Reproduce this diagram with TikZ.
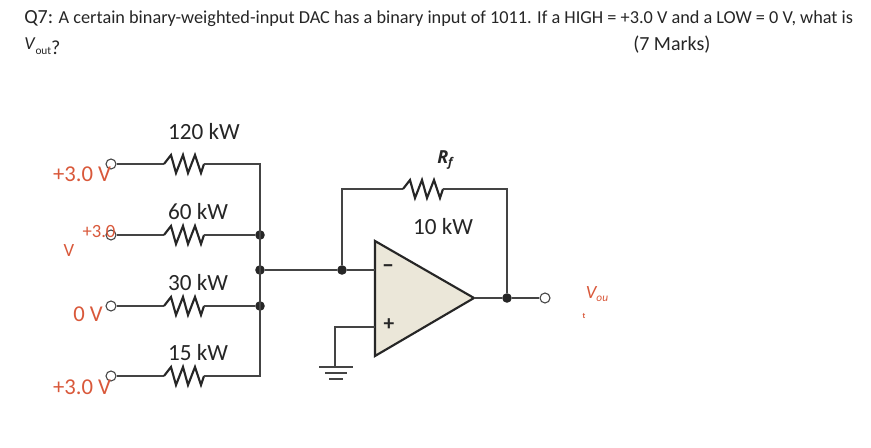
\documentclass[tikz,border=0pt]{standalone}
\usepackage{fontspec}
\setmainfont{Carlito}
\newfontfamily\labelfont{Open Sans}
\usetikzlibrary{positioning}
\definecolor{wirecolor}{HTML}{444444}
\definecolor{inputcolor}{HTML}{D9583A}
\definecolor{opampcolor}{HTML}{EBE7D9}
\begin{document}
\begin{tikzpicture}[x=0.75pt, y=-0.75pt]
	\tikzstyle{wire}=[draw=wirecolor, line width=1.2pt]
	\tikzstyle{resistor}=[wire, draw=black!85, line width=1.6pt, line join=miter, to path={-- ++(7,-9) -- ++(5,18) -- ++(7,-18) -- ++(5,18) -- ++(7,-18) -- ++(6,18) -- (\tikztotarget)}]
	\tikzstyle{terminalnode}=[draw=wirecolor, line width=0.8pt, circle, fill=white, inner sep=0pt, minimum size=7.5pt]
	\tikzstyle{dotnode}=[draw=none, circle, fill=black!85, inner sep=0pt, minimum size=7.2pt]
	\tikzstyle{valuenode}=[text=black!85, inner sep=0pt, font=\fontsize{17.4}{20}\selectfont]
	\tikzstyle{inputnode}=[text=inputcolor, inner sep=0pt, font=\fontsize{17}{20}\selectfont]
	\tikzstyle{titlenode}=[text=black!85, inner sep=0pt, anchor=base west, font=\fontsize{13.7}{16}\selectfont]

	\useasboundingbox (0,0) rectangle (871,448);
	\fill[white] (0,0) rectangle (871,448);

	% input branches
	\node (t1) at (111,164) [terminalnode] {};
	\node (t2) at (111,235) [terminalnode] {};
	\node (t3) at (111,306) [terminalnode] {};
	\node (t4) at (111,376) [terminalnode] {};

	\coordinate (r1a) at (164,164);
	\coordinate (r1b) at (204,164);
	\coordinate (r2a) at (164,235);
	\coordinate (r2b) at (204,235);
	\coordinate (r3a) at (164,306);
	\coordinate (r3b) at (204,306);
	\coordinate (r4a) at (164,376);
	\coordinate (r4b) at (204,376);
	\coordinate (c1) at (260,164);
	\coordinate (c4) at (260,376);

	\node (d2) at (260,235) [dotnode] {};
	\node (d3) at (260,306) [dotnode] {};
	\node (dj) at (260,270) [dotnode] {};
	\node (df) at (342,270) [dotnode] {};
	\node (dout) at (507,298) [dotnode] {};
	\node (tout) at (545,298) [terminalnode] {};

	% op-amp
	\coordinate (oa) at (375,241);
	\coordinate (ob) at (375,356);
	\coordinate (oc) at (474,298);
	\coordinate (oneg) at (375,270);
	\coordinate (opos) at (375,327);
	\draw [draw=black!85, line width=1.6pt, fill=opampcolor] (oa) -- (ob) -- (oc) -- cycle;
	\node (minus) at (388,269) [valuenode, font=\bfseries\fontsize{18}{20}\selectfont] {--};
	\node (plus) at (389,325) [valuenode, font=\bfseries\fontsize{16}{18}\selectfont] {+};

	% feedback
	\coordinate (fa) at (342,189);
	\coordinate (rfa) at (403,189);
	\coordinate (rfb) at (443,189);
	\coordinate (fb) at (507,189);

	% ground
	\coordinate (gw) at (335,327);
	\coordinate (g0) at (335,367);
	\coordinate (g1a) at (319,367);
	\coordinate (g1b) at (353,367);
	\coordinate (g2a) at (325,373);
	\coordinate (g2b) at (347,373);
	\coordinate (g3a) at (329,379);
	\coordinate (g3b) at (343,379);

	\draw [wire] (t1) -- (r1a);
	\draw [wire] (t2) -- (r2a);
	\draw [wire] (t3) -- (r3a);
	\draw [wire] (t4) -- (r4a);
	\draw [resistor] (r1a) to (r1b);
	\draw [resistor] (r2a) to (r2b);
	\draw [resistor] (r3a) to (r3b);
	\draw [resistor] (r4a) to (r4b);
	\draw [wire] (r1b) -- (c1) -- (c4) -- (r4b);
	\draw [wire] (r2b) -- (d2);
	\draw [wire] (r3b) -- (d3);
	\draw [wire] (dj) -- (df) -- (oneg);
	\draw [wire] (df) -- (fa) -- (rfa);
	\draw [resistor] (rfa) to (rfb);
	\draw [wire] (rfb) -- (fb) -- (dout);
	\draw [wire] (oc) -- (dout) -- (tout);
	\draw [wire] (opos) -- (gw) -- (g0);
	\draw [wire, line width=1.6pt] (g1a) -- (g1b);
	\draw [wire, line width=1.6pt] (g2a) -- (g2b);
	\draw [wire, line width=1.6pt] (g3a) -- (g3b);

	% values
	\node (v1) at (204,132) [valuenode] {120 kW};
	\node (v2) at (198,212) [valuenode] {60 kW};
	\node (v3) at (198,283) [valuenode] {30 kW};
	\node (v4) at (198,353) [valuenode] {15 kW};
	\node (vf) at (443,227) [valuenode] {10 kW};
	\node (rf) at (445,160) [valuenode, font=\labelfont\itshape\bfseries\fontsize{13.5}{15}\selectfont] {R\raisebox{-0.4ex}{\fontsize{9}{10}\selectfont\textit{f}}};

	% input levels
	\node (l1) at (82,174) [inputnode] {+3.0 V};
	\node (l2a) at (99,232) [inputnode, font=\fontsize{14}{15}\selectfont] {+3.0};
	\node (l2b) at (69,251) [inputnode, font=\fontsize{14}{15}\selectfont] {V};
	\node (l3) at (88,314) [inputnode] {0 V};
	\node (l4) at (82,387) [inputnode] {+3.0 V};
	\node (lo1) at (597,294) [inputnode, font=\itshape\fontsize{14}{15}\selectfont] {V\raisebox{-0.3ex}{\fontsize{8.5}{9}\selectfont ou}};
	\node (lo2) at (584,316) [inputnode, font=\bfseries\fontsize{6}{6}\selectfont] {t};

	% question text
	\node (q1) at (24,24) [titlenode] {{\fontsize{15}{16}\selectfont Q7:} A certain binary-weighted-input DAC has a binary input of 1011. If a HIGH = +3.0 V and a LOW = 0 V, what is};
	\node (q2) at (24,55) [titlenode] {\raisebox{3.75pt}{\textit{V}}{\fontsize{8.5}{9}\selectfont out}{\fontsize{15}{16}\selectfont ?}};
	\node (q3) at (633,51) [titlenode, font=\fontsize{15}{16}\selectfont] {(7 Marks)};
\end{tikzpicture}
\end{document}
